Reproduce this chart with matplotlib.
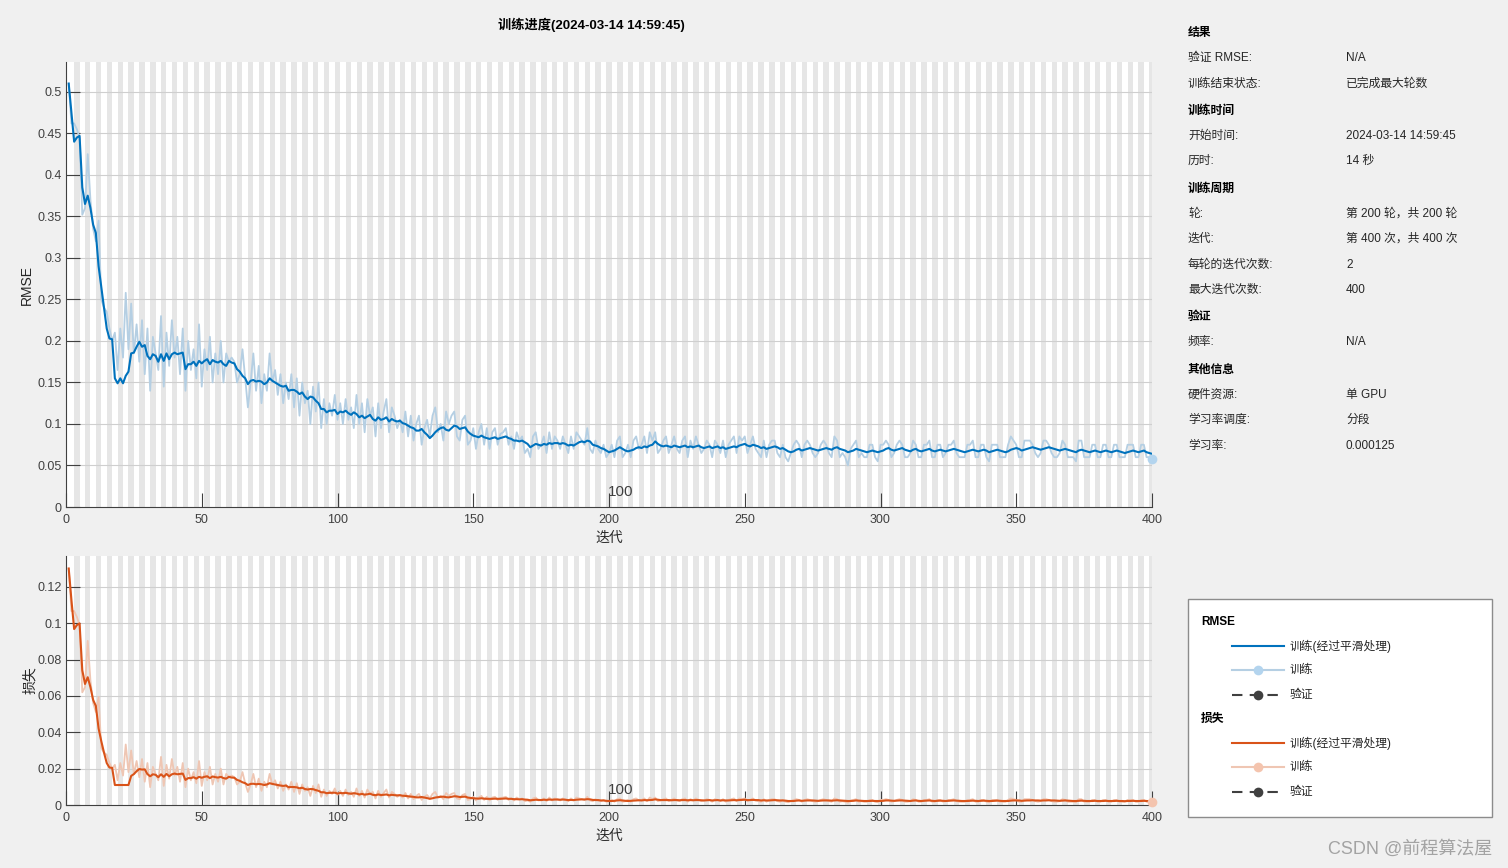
import numpy as np
import matplotlib
matplotlib.use("Agg")
import matplotlib.pyplot as plt
from matplotlib.lines import Line2D
from matplotlib.patches import Rectangle
from matplotlib.ticker import FuncFormatter

plt.rcParams['font.family'] = ['Liberation Sans', 'Noto Sans CJK SC']

# ---- data (400 iterations, 2 per epoch) ----
n_epochs = 200
iters_per_epoch = 2

rmse_smooth = [
    .510, .475, .440, .445, .447, .385, .365, .375, .360, .340, .330, .290, .265, .240, .215, .203, .202, .155, .149, .155,
    .149, .158, .163, .185, .186, .193, .199, .193, .195, .182, .178, .184, .182, .175, .184, .176, .185, .178, .184, .186,
    .184, .185, .186, .166, .172, .172, .175, .170, .176, .173, .176, .178, .172, .177, .175, .174, .176, .172, .170, .176,
    .174, .173, .166, .163, .158, .155, .148, .152, .153, .151, .152, .151, .148, .150, .155, .152, .150, .148, .146, .145,
    .146, .140, .141, .141, .139, .136, .138, .133, .130, .133, .132, .128, .125, .118, .118, .114, .116, .116, .117, .112,
    .115, .114, .116, .113, .111, .114, .112, .108, .110, .107, .109, .111, .106, .104, .108, .105, .106, .108, .103, .106,
    .104, .103, .104, .101, .100, .098, .096, .095, .092, .092, .094, .090, .087, .083, .086, .090, .093, .095, .096, .093,
    .092, .095, .098, .097, .094, .095, .096, .091, .088, .086, .085, .084, .086, .084, .083, .082, .083, .084, .082, .083,
    .084, .085, .083, .082, .080, .080, .079, .080, .078, .076, .072, .074, .076, .075, .074, .076, .075, .077, .076, .077,
    .077, .076, .077, .076, .074, .075, .074, .076, .078, .079, .078, .080, .079, .075, .074, .073, .071, .070, .068, .066,
    .067, .068, .070, .072, .070, .068, .067, .068, .069, .071, .072, .071, .073, .072, .074, .075, .079, .076, .074, .073,
    .074, .073, .072, .074, .073, .072, .073, .074, .072, .073, .072, .073, .074, .072, .071, .072, .073, .071, .072, .073,
    .071, .072, .070, .071, .072, .073, .072, .074, .075, .076, .074, .073, .075, .074, .073, .071, .072, .070, .071, .072,
    .073, .072, .070, .071, .069, .067, .066, .067, .069, .070, .068, .069, .070, .071, .070, .069, .068, .069, .070, .071,
    .070, .069, .071, .072, .070, .069, .068, .066, .067, .068, .070, .069, .068, .067, .066, .067, .068, .067, .066, .067,
    .068, .070, .071, .069, .068, .069, .070, .071, .069, .068, .067, .069, .070, .068, .067, .068, .069, .070, .068, .067,
    .068, .069, .068, .067, .068, .069, .070, .069, .068, .067, .066, .067, .068, .069, .068, .067, .068, .069, .068, .066,
    .067, .068, .069, .068, .067, .066, .067, .069, .070, .071, .070, .068, .069, .070, .071, .072, .071, .070, .069, .070,
    .071, .072, .071, .070, .069, .068, .069, .070, .069, .068, .067, .066, .068, .069, .068, .067, .066, .067, .068, .067,
    .066, .067, .068, .067, .066, .067, .068, .067, .066, .065, .066, .067, .068, .067, .066, .067, .068, .066, .065, .064,
]

rmse_raw = [
    .510, .462, .462, .455, .445, .352, .360, .425, .370, .335, .320, .345, .250, .240, .235, .215, .200, .210, .165, .215,
    .180, .258, .190, .245, .185, .220, .175, .225, .160, .215, .140, .205, .185, .165, .230, .145, .210, .170, .225, .180,
    .205, .160, .215, .140, .200, .165, .190, .155, .220, .145, .190, .165, .205, .150, .185, .160, .200, .150, .185, .175,
    .180, .175, .150, .160, .190, .155, .120, .150, .185, .140, .170, .125, .160, .140, .185, .150, .165, .135, .160, .125,
    .150, .130, .160, .120, .155, .110, .150, .125, .140, .100, .145, .115, .150, .095, .130, .100, .125, .110, .135, .105,
    .125, .100, .130, .105, .120, .095, .135, .100, .125, .090, .130, .110, .120, .085, .125, .095, .115, .130, .090, .120,
    .110, .095, .105, .090, .115, .085, .110, .080, .100, .110, .075, .095, .105, .085, .110, .120, .090, .100, .080, .115,
    .100, .110, .115, .085, .080, .105, .110, .075, .080, .095, .070, .090, .100, .075, .095, .070, .090, .095, .075, .088,
    .090, .095, .075, .085, .070, .090, .080, .085, .065, .070, .060, .085, .090, .070, .075, .085, .065, .090, .070, .085,
    .080, .070, .085, .075, .065, .085, .070, .090, .085, .080, .075, .095, .070, .065, .080, .070, .065, .075, .060, .065,
    .075, .060, .080, .085, .060, .065, .075, .060, .080, .085, .070, .075, .085, .065, .090, .080, .090, .065, .070, .080,
    .085, .065, .075, .085, .070, .065, .080, .085, .060, .080, .070, .085, .075, .065, .070, .080, .075, .060, .080, .075,
    .065, .080, .060, .075, .080, .085, .065, .085, .080, .085, .065, .075, .085, .070, .065, .060, .080, .060, .075, .080,
    .080, .065, .060, .075, .060, .055, .065, .075, .080, .075, .060, .075, .080, .075, .065, .060, .065, .075, .080, .075,
    .065, .060, .085, .080, .060, .065, .060, .050, .070, .075, .080, .060, .065, .060, .060, .075, .075, .060, .055, .075,
    .075, .080, .075, .060, .065, .075, .080, .075, .060, .060, .065, .080, .075, .060, .060, .075, .075, .080, .060, .060,
    .075, .075, .060, .065, .075, .075, .080, .065, .060, .060, .060, .075, .075, .080, .060, .060, .075, .075, .060, .055,
    .075, .075, .075, .060, .060, .060, .075, .085, .080, .075, .060, .060, .080, .080, .080, .075, .065, .060, .065, .080,
    .080, .075, .065, .060, .060, .065, .080, .075, .060, .060, .060, .055, .080, .080, .060, .060, .060, .075, .075, .060,
    .060, .075, .075, .060, .060, .075, .075, .060, .060, .060, .075, .075, .075, .060, .060, .075, .075, .060, .060, .058,
]

loss_smooth = [
    .1301, .1128, .0968, .0990, .0999, .0741, .0666, .0703, .0648, .0578, .0545, .0421, .0351, .0288, .0231, .0206, .0204, .0110, .0110, .0110,
    .0110, .0110, .0110, .0160, .0170, .0186, .0198, .0195, .0196, .0170, .0158, .0169, .0166, .0153, .0169, .0155, .0171, .0158, .0169, .0173,
    .0169, .0171, .0173, .0138, .0148, .0148, .0153, .0145, .0155, .0150, .0155, .0158, .0148, .0157, .0153, .0151, .0155, .0148, .0145, .0155,
    .0151, .0150, .0138, .0133, .0125, .0120, .0110, .0116, .0117, .0114, .0116, .0114, .0110, .0113, .0120, .0116, .0113, .0110, .0107, .0105,
    .0107, .0098, .0099, .0099, .0097, .0092, .0095, .0088, .0085, .0088, .0087, .0082, .0078, .0070, .0070, .0065, .0067, .0067, .0068, .0063,
    .0066, .0065, .0067, .0064, .0062, .0065, .0063, .0058, .0061, .0057, .0059, .0062, .0056, .0054, .0058, .0055, .0056, .0058, .0053, .0056,
    .0054, .0053, .0054, .0051, .0050, .0048, .0046, .0045, .0042, .0042, .0044, .0041, .0038, .0034, .0037, .0041, .0043, .0045, .0046, .0043,
    .0042, .0045, .0048, .0047, .0044, .0045, .0046, .0041, .0039, .0037, .0036, .0035, .0037, .0035, .0034, .0034, .0034, .0035, .0034, .0034,
    .0035, .0036, .0034, .0034, .0032, .0032, .0031, .0032, .0030, .0029, .0026, .0027, .0029, .0028, .0027, .0029, .0028, .0030, .0029, .0030,
    .0030, .0029, .0030, .0029, .0027, .0028, .0027, .0029, .0030, .0031, .0030, .0032, .0031, .0028, .0027, .0027, .0025, .0025, .0023, .0022,
    .0022, .0023, .0025, .0026, .0025, .0023, .0022, .0023, .0024, .0025, .0026, .0025, .0027, .0026, .0027, .0028, .0031, .0029, .0027, .0027,
    .0027, .0027, .0026, .0027, .0027, .0026, .0027, .0027, .0026, .0027, .0026, .0027, .0027, .0026, .0025, .0026, .0027, .0025, .0026, .0027,
    .0025, .0026, .0025, .0025, .0026, .0027, .0026, .0027, .0028, .0029, .0027, .0027, .0028, .0027, .0027, .0025, .0026, .0025, .0025, .0026,
    .0027, .0026, .0025, .0025, .0024, .0022, .0022, .0022, .0024, .0025, .0023, .0024, .0025, .0025, .0025, .0024, .0023, .0024, .0025, .0025,
    .0025, .0024, .0025, .0026, .0025, .0024, .0023, .0022, .0022, .0023, .0025, .0024, .0023, .0022, .0022, .0022, .0023, .0022, .0022, .0022,
    .0023, .0025, .0025, .0024, .0023, .0024, .0025, .0025, .0024, .0023, .0022, .0024, .0025, .0023, .0022, .0023, .0024, .0025, .0023, .0022,
    .0023, .0024, .0023, .0022, .0023, .0024, .0025, .0024, .0023, .0022, .0022, .0022, .0023, .0024, .0023, .0022, .0023, .0024, .0023, .0022,
    .0022, .0023, .0024, .0023, .0022, .0022, .0022, .0024, .0025, .0025, .0025, .0023, .0024, .0025, .0025, .0026, .0025, .0025, .0024, .0025,
    .0025, .0026, .0025, .0025, .0024, .0023, .0024, .0025, .0024, .0023, .0022, .0022, .0023, .0024, .0023, .0022, .0022, .0022, .0023, .0022,
    .0022, .0022, .0023, .0022, .0022, .0022, .0023, .0022, .0022, .0021, .0022, .0022, .0023, .0022, .0022, .0022, .0023, .0022, .0021, .0020,
]

loss_raw = [
    .1301, .1067, .1067, .1035, .0990, .0620, .0648, .0903, .0685, .0561, .0512, .0595, .0313, .0288, .0276, .0231, .0200, .0221, .0136, .0231,
    .0162, .0333, .0181, .0300, .0171, .0242, .0153, .0253, .0128, .0231, .0098, .0210, .0171, .0136, .0265, .0105, .0221, .0145, .0253, .0162,
    .0210, .0128, .0231, .0098, .0200, .0136, .0181, .0120, .0242, .0105, .0181, .0136, .0210, .0113, .0171, .0128, .0200, .0113, .0171, .0153,
    .0162, .0153, .0113, .0128, .0181, .0120, .0072, .0113, .0171, .0098, .0145, .0078, .0128, .0098, .0171, .0113, .0136, .0091, .0128, .0078,
    .0113, .0085, .0128, .0072, .0120, .0061, .0113, .0078, .0098, .0050, .0105, .0066, .0113, .0045, .0085, .0050, .0078, .0061, .0091, .0055,
    .0078, .0050, .0085, .0055, .0072, .0045, .0091, .0050, .0078, .0041, .0085, .0061, .0072, .0036, .0078, .0045, .0066, .0085, .0041, .0072,
    .0061, .0045, .0055, .0041, .0066, .0036, .0061, .0032, .0050, .0061, .0028, .0045, .0055, .0036, .0061, .0072, .0041, .0050, .0032, .0066,
    .0050, .0061, .0066, .0036, .0032, .0055, .0061, .0028, .0032, .0045, .0025, .0041, .0050, .0028, .0045, .0025, .0041, .0045, .0028, .0039,
    .0041, .0045, .0028, .0036, .0025, .0041, .0032, .0036, .0021, .0025, .0018, .0036, .0041, .0025, .0028, .0036, .0021, .0041, .0025, .0036,
    .0032, .0025, .0036, .0028, .0021, .0036, .0025, .0041, .0036, .0032, .0028, .0045, .0025, .0021, .0032, .0025, .0021, .0028, .0018, .0021,
    .0028, .0018, .0032, .0036, .0018, .0021, .0028, .0018, .0032, .0036, .0025, .0028, .0036, .0021, .0041, .0032, .0041, .0021, .0025, .0032,
    .0036, .0021, .0028, .0036, .0025, .0021, .0032, .0036, .0018, .0032, .0025, .0036, .0028, .0021, .0025, .0032, .0028, .0018, .0032, .0028,
    .0021, .0032, .0018, .0028, .0032, .0036, .0021, .0036, .0032, .0036, .0021, .0028, .0036, .0025, .0021, .0018, .0032, .0018, .0028, .0032,
    .0032, .0021, .0018, .0028, .0018, .0015, .0021, .0028, .0032, .0028, .0018, .0028, .0032, .0028, .0021, .0018, .0021, .0028, .0032, .0028,
    .0021, .0018, .0036, .0032, .0018, .0021, .0018, .0013, .0025, .0028, .0032, .0018, .0021, .0018, .0018, .0028, .0028, .0018, .0015, .0028,
    .0028, .0032, .0028, .0018, .0021, .0028, .0032, .0028, .0018, .0018, .0021, .0032, .0028, .0018, .0018, .0028, .0028, .0032, .0018, .0018,
    .0028, .0028, .0018, .0021, .0028, .0028, .0032, .0021, .0018, .0018, .0018, .0028, .0028, .0032, .0018, .0018, .0028, .0028, .0018, .0015,
    .0028, .0028, .0028, .0018, .0018, .0018, .0028, .0036, .0032, .0028, .0018, .0018, .0032, .0032, .0032, .0028, .0021, .0018, .0021, .0032,
    .0032, .0028, .0021, .0018, .0018, .0021, .0032, .0028, .0018, .0018, .0018, .0015, .0032, .0032, .0018, .0018, .0018, .0028, .0028, .0018,
    .0018, .0028, .0028, .0018, .0018, .0028, .0028, .0018, .0018, .0018, .0028, .0028, .0028, .0018, .0018, .0028, .0028, .0018, .0018, .0017,
]

rmse_ticks = [0, .05, .1, .15, .2, .25, .3, .35, .4, .45, .5]
loss_ticks = [0, .02, .04, .06, .08, .1, .12]
x_ticks = [0, 50, 100, 150, 200, 250, 300, 350, 400]
epoch_marks = [100, 200]

info_rows = [
    ("结果", None),
    ("验证 RMSE:", "N/A"),
    ("训练结束状态:", "已完成最大轮数"),
    ("训练时间", None),
    ("开始时间:", "2024-03-14 14:59:45"),
    ("历时:", "14 秒"),
    ("训练周期", None),
    ("轮:", "第 200 轮，共 200 轮"),
    ("迭代:", "第 400 次，共 400 次"),
    ("每轮的迭代次数:", "2"),
    ("最大迭代次数:", "400"),
    ("验证", None),
    ("频率:", "N/A"),
    ("其他信息", None),
    ("硬件资源:", "单 GPU"),
    ("学习率调度:", "分段"),
    ("学习率:", "0.000125"),
]

# colours (MATLAB defaults)
BLUE, BLUE_LIGHT, BLUE_MARK = '#0072BD', '#b5cfe3', '#b3d4ee'
ORANGE, ORANGE_LIGHT, ORANGE_MARK = '#D95319', '#efc6b3', '#f4c4ae'
TXT = '#404040'

iterations = np.arange(1, len(rmse_raw) + 1)

W, H = 1508, 868
fig = plt.figure(figsize=(W / 100, H / 100), dpi=100, facecolor='#f0f0f0')


def px_rect(l, t, r, b):
    return [l / W, 1 - b / H, (r - l) / W, (b - t) / H]


def draw_panel(ax, smooth, raw, ticks, ymax, c_s, c_r, c_m, ylabel):
    ax.set_facecolor('white')
    # alternate epoch shading
    for e in range(2, n_epochs + 1, 2):
        ax.axvspan(e * iters_per_epoch - 1, e * iters_per_epoch + 1,
                   color='#e6e6e6', lw=0, zorder=0)
    for t in ticks[1:]:
        ax.axhline(t, color='#cfcfcf', lw=0.8, zorder=1)
    ax.plot(iterations, raw, color=c_r, lw=1.3, zorder=2)
    ax.plot(iterations, smooth, color=c_s, lw=1.5, zorder=3)
    ax.plot(iterations[-1], raw[-1], 'o', ms=7, color=c_m, mec='none',
            clip_on=False, zorder=4)
    ax.set_xlim(0, len(rmse_raw))
    ax.set_ylim(0, ymax)
    ax.set_xticks(x_ticks)
    ax.set_yticks(ticks)
    ax.yaxis.set_major_formatter(FuncFormatter(lambda v, p: '%g' % v))
    ax.tick_params(direction='in', length=10, width=0.8, color='#404040',
                   labelcolor=TXT, labelsize=9)
    ax.tick_params(axis='x', pad=5)
    ax.tick_params(axis='y', pad=3)
    for s in ('top', 'right'):
        ax.spines[s].set_visible(False)
    for s in ('left', 'bottom'):
        ax.spines[s].set_color('#404040')
        ax.spines[s].set_linewidth(0.8)
    ax.set_xlabel('迭代', fontsize=10, color='#262626', labelpad=3.5)
    ax.set_ylabel(ylabel, fontsize=10, color='#262626')
    # epoch labels along the bottom
    for ep in epoch_marks:
        t = ax.annotate(str(ep), xy=(ep * iters_per_epoch - 0.4, 0),
                        xytext=(0, 6), textcoords='offset points',
                        ha='left', va='bottom', fontsize=11, color=TXT,
                        annotation_clip=False)
        t.set_clip_box(ax.bbox)
        t.set_clip_on(True)


ax1 = fig.add_axes(px_rect(66, 62, 1152, 507))
draw_panel(ax1, rmse_smooth, rmse_raw, rmse_ticks, 0.536, BLUE, BLUE_LIGHT, BLUE_MARK, 'RMSE')
ax2 = fig.add_axes(px_rect(66, 556, 1152, 805))
draw_panel(ax2, loss_smooth, loss_raw, loss_ticks, 0.137, ORANGE, ORANGE_LIGHT, ORANGE_MARK, '损失')
ax1.yaxis.set_label_coords(-0.0295, 0.5)
ax2.yaxis.set_label_coords(-0.027, 0.5)

fig.text(591 / W, 1 - 25 / H, '训练进度(2024-03-14 14:59:45)', ha='center', va='center',
         fontsize=9.5, fontweight='bold', color='black')

# overlay in pixel coordinates for the side panel and legend
ov = fig.add_axes([0, 0, 1, 1])
ov.set_xlim(0, W)
ov.set_ylim(H, 0)
ov.axis('off')

row_y = [33, 58, 84, 111, 136, 161, 189, 214, 239, 265, 290, 317, 342, 370, 395, 420, 446]
for (label, value), y in zip(info_rows, row_y):
    if value is None:
        ov.text(1188, y, label, fontsize=8.5, fontweight='bold', color='black', va='center')
    else:
        ov.text(1188, y, label, fontsize=8.5, color='#262626', va='center')
        ov.text(1346, y, value, fontsize=8.5, color='#262626', va='center')

# legend box
ov.add_patch(Rectangle((1188, 599), 304, 218, facecolor='white', edgecolor='#8c8c8c', lw=1))
legend_groups = [
    ('RMSE', 622, BLUE, BLUE_LIGHT, BLUE_MARK),
    ('损失', 719, ORANGE, ORANGE_LIGHT, ORANGE_MARK),
]
for title, y0, c_s, c_r, c_m in legend_groups:
    ov.text(1201, y0, title, fontsize=8.5, fontweight='bold', color='black', va='center')
    y = y0 + 24
    ov.add_line(Line2D([1232, 1284], [y, y], color=c_s, lw=1.5))
    ov.text(1290, y, '训练(经过平滑处理)', fontsize=8.5, color='#262626', va='center')
    y += 24
    ov.add_line(Line2D([1232, 1284], [y, y], color=c_r, lw=1.5))
    ov.plot([1258], [y], 'o', ms=7, color=c_m, mec='none')
    ov.text(1290, y, '训练', fontsize=8.5, color='#262626', va='center')
    y += 25
    ov.add_line(Line2D([1232, 1284], [y, y], color='#404040', lw=1.5, ls=(0, (5, 3.5))))
    ov.plot([1258], [y], 'o', ms=7, color='#404040', mec='none')
    ov.text(1290, y, '验证', fontsize=8.5, color='#262626', va='center')

ov.text(1492, 849, 'CSDN @前程算法屋', fontsize=13, color='#a3a3a3', ha='right', va='center')

fig.savefig('out.png', dpi=100, facecolor=fig.get_facecolor())
